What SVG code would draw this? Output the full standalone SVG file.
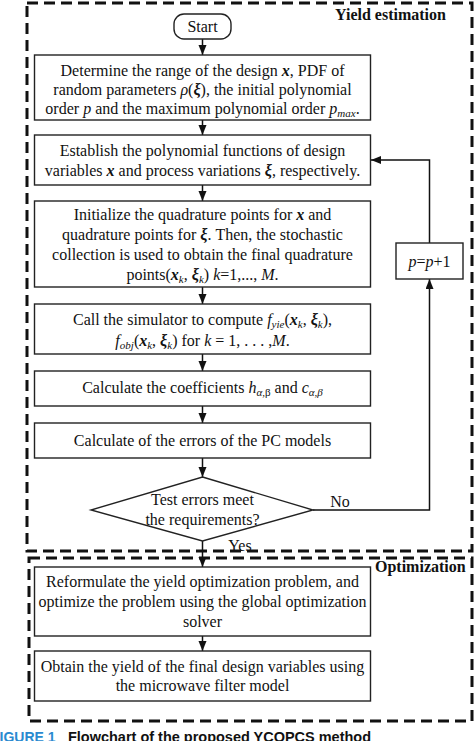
<svg xmlns="http://www.w3.org/2000/svg" width="474" height="741" viewBox="0 0 474 741">
<style>
.frame{fill:none;stroke:#111;stroke-width:3;stroke-dasharray:11 6}
.box{fill:#fff;stroke:#222;stroke-width:1.4}
.t{font-family:"Liberation Serif","Times New Roman",serif;font-size:16px;fill:#111;text-anchor:middle}
.lbl{font-family:"Liberation Serif","Times New Roman",serif;font-size:16px;font-weight:bold;fill:#111}
.bi{font-weight:bold;font-style:italic}
.i{font-style:italic}
.s{font-size:11px}
.line{fill:none;stroke:#111;stroke-width:1.5}
.cap{font-family:"Liberation Sans",Arial,sans-serif;font-size:14px;font-weight:bold}
</style>
<defs>
<marker id="ah" markerUnits="userSpaceOnUse" markerWidth="10" markerHeight="10" refX="10" refY="4" orient="auto">
<path d="M0,0 L10,4 L0,8 z" fill="#111"/>
</marker>
</defs>

<g id="frames">
<rect class="frame" x="27" y="3" width="445" height="548"/>
<rect class="frame" x="29" y="558" width="443" height="163"/>
<text class="lbl" x="335" y="20">Yield estimation</text>
<text class="lbl" x="375" y="572">Optimization</text>
</g>

<g id="connectors">
<line class="line" x1="202.5" y1="39" x2="202.5" y2="55" marker-end="url(#ah)"/>
<line class="line" x1="202.5" y1="120" x2="202.5" y2="135" marker-end="url(#ah)"/>
<line class="line" x1="202.5" y1="185" x2="202.5" y2="201" marker-end="url(#ah)"/>
<line class="line" x1="202.5" y1="287" x2="202.5" y2="304" marker-end="url(#ah)"/>
<line class="line" x1="202.5" y1="354" x2="202.5" y2="371" marker-end="url(#ah)"/>
<line class="line" x1="202.5" y1="406" x2="202.5" y2="423" marker-end="url(#ah)"/>
<line class="line" x1="202.5" y1="458" x2="202.5" y2="477" marker-end="url(#ah)"/>
<line class="line" x1="202.5" y1="541" x2="202.5" y2="567" marker-end="url(#ah)"/>
<line class="line" x1="202.5" y1="636" x2="202.5" y2="651" marker-end="url(#ah)"/>
<polyline class="line" points="313,510 429.5,510 429.5,279" marker-end="url(#ah)"/>
<polyline class="line" points="429.5,243 429.5,160 371,160" marker-end="url(#ah)"/>
<text class="t" x="340" y="507">No</text>
<text class="t" x="240" y="551">Yes</text>
</g>

<g id="start">
<rect class="box" x="174" y="14" width="57" height="25" rx="10"/>
<text class="t" x="202.5" y="32">Start</text>
</g>

<g id="box1">
<rect class="box" x="34.5" y="55" width="336" height="65"/>
<text class="t" x="202.5" y="76">Determine the range of the design <tspan class="bi">x</tspan>, PDF of</text>
<text class="t" x="202.5" y="95">random parameters <tspan class="i">ρ</tspan>(<tspan class="bi">ξ</tspan>), the initial polynomial</text>
<text class="t" x="202.5" y="114">order <tspan class="i">p</tspan> and the maximum polynomial order <tspan class="i">p</tspan><tspan class="i s" dy="3">max</tspan><tspan dy="-3">.</tspan></text>
</g>

<g id="box2">
<rect class="box" x="34.5" y="135" width="336" height="50"/>
<text class="t" x="202.5" y="156">Establish the polynomial functions of design</text>
<text class="t" x="202.5" y="176">variables <tspan class="bi">x</tspan> and process variations <tspan class="bi">ξ</tspan>, respectively.</text>
</g>

<g id="box3">
<rect class="box" x="34.5" y="201" width="336" height="86"/>
<text class="t" x="202.5" y="220">Initialize the quadrature points for <tspan class="bi">x</tspan> and</text>
<text class="t" x="202.5" y="240">quadrature points for <tspan class="bi">ξ</tspan>. Then, the stochastic</text>
<text class="t" x="202.5" y="260">collection is used to obtain the final quadrature</text>
<text class="t" x="202.5" y="280">points(<tspan class="bi">x</tspan><tspan class="s i" dy="3">k</tspan><tspan dy="-3">, </tspan><tspan class="bi">ξ</tspan><tspan class="s i" dy="3">k</tspan><tspan dy="-3">) </tspan><tspan class="i">k</tspan>=1,..., <tspan class="i">M</tspan>.</text>
</g>

<g id="box4">
<rect class="box" x="34.5" y="304" width="336" height="50"/>
<text class="t" x="202.5" y="325">Call the simulator to compute <tspan class="i">f</tspan><tspan class="s i" dy="3">yie</tspan><tspan dy="-3">(</tspan><tspan class="bi">x</tspan><tspan class="s i" dy="3">k</tspan><tspan dy="-3">, </tspan><tspan class="bi">ξ</tspan><tspan class="s i" dy="3">k</tspan><tspan dy="-3">),</tspan></text>
<text class="t" x="202.5" y="346"><tspan class="i">f</tspan><tspan class="s i" dy="3">obj</tspan><tspan dy="-3">(</tspan><tspan class="bi">x</tspan><tspan class="s i" dy="3">k</tspan><tspan dy="-3">, </tspan><tspan class="bi">ξ</tspan><tspan class="s i" dy="3">k</tspan><tspan dy="-3">) for </tspan><tspan class="i">k</tspan> = 1, . . . ,<tspan class="i">M</tspan>.</text>
</g>

<g id="box5">
<rect class="box" x="34.5" y="371" width="336" height="35"/>
<text class="t" x="202.5" y="393">Calculate the coefficients <tspan class="i">h</tspan><tspan class="s" dy="3"><tspan class="i">α</tspan>,β</tspan><tspan dy="-3"> and </tspan><tspan class="i">c</tspan><tspan class="s i" dy="3">α,β</tspan></text>
</g>

<g id="box6">
<rect class="box" x="34.5" y="423" width="336" height="35"/>
<text class="t" x="202.5" y="446">Calculate of the errors of the PC models</text>
</g>

<g id="decision">
<polygon class="box" points="202.5,477 313,510 202.5,541 91,510"/>
<text class="t" x="202.5" y="505">Test errors meet</text>
<text class="t" x="202.5" y="525">the requirements?</text>
</g>

<g id="increment">
<rect class="box" x="396" y="243" width="67" height="36"/>
<text class="t" x="429.5" y="267"><tspan class="i">p</tspan>=<tspan class="i">p</tspan>+1</text>
</g>

<g id="opt1">
<rect class="box" x="34.5" y="567" width="336" height="69"/>
<text class="t" x="202.5" y="587">Reformulate the yield optimization problem, and</text>
<text class="t" x="202.5" y="607">optimize the problem using the global optimization</text>
<text class="t" x="202.5" y="627">solver</text>
</g>

<g id="opt2">
<rect class="box" x="34.5" y="651" width="336" height="50"/>
<text class="t" x="202.5" y="672">Obtain the yield of the final design variables using</text>
<text class="t" x="202.5" y="691">the microwave filter model</text>
</g>

<g id="caption">
<text class="cap" x="-9" y="742"><tspan fill="#2a8ad0">FIGURE 1</tspan><tspan fill="#111" x="68" textLength="303" lengthAdjust="spacingAndGlyphs">Flowchart of the proposed YCOPCS method</tspan></text>
</g>
</svg>
